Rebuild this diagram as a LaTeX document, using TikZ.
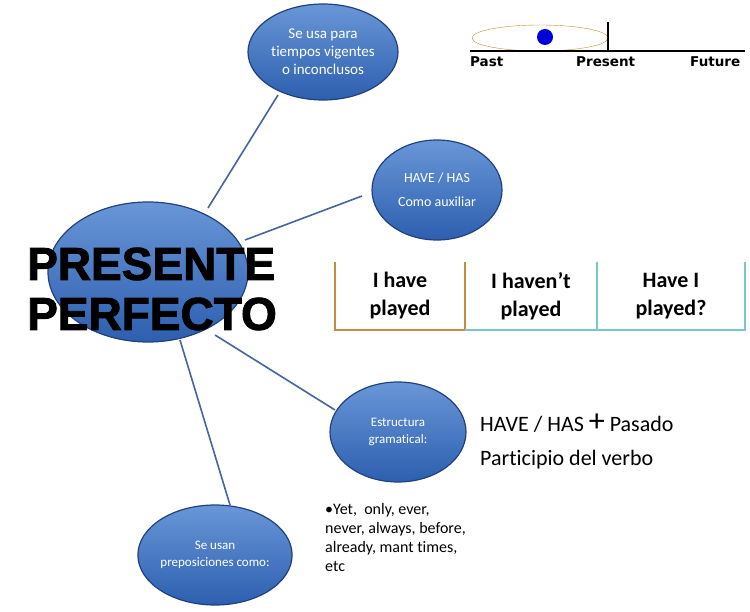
\documentclass[tikz,border=0pt]{standalone}
\usepackage{fontspec}
\setmainfont[Ligatures=NoCommon]{Carlito}
\newfontfamily\dvs{DejaVu Sans}
\newfontfamily\lib{Liberation Sans}
\usetikzlibrary{shapes.geometric}
\definecolor{bub}{RGB}{45,95,175}
\definecolor{bubd}{RGB}{35,65,125}
\definecolor{bubl}{RGB}{105,150,215}
\definecolor{conn}{RGB}{70,100,160}
\definecolor{orng}{RGB}{200,140,60}
\definecolor{teal}{RGB}{120,200,200}
\tikzset{bubble/.style={ellipse,draw=bubd,line width=1.2pt,top color=bubl,bottom color=bub,text=white,align=center,font=\fontsize{15}{18}\selectfont,inner sep=0pt},
conline/.style={draw=conn,line width=1.6pt}}
\begin{document}
\begin{tikzpicture}[x=1pt,y=-1pt]
\useasboundingbox[fill=white] (0,0) rectangle (750,612);
\node[bubble,minimum width=200,minimum height=140] (main) at (148,272) {};
\node[bubble,minimum width=150,minimum height=96] (top) at (323,52) {Se usa para\\tiempos vigentes\\o inconclusos};
\node[bubble,minimum width=130,minimum height=100,font=\fontsize{14}{24}\selectfont] (have) at (437,190) {HAVE / HAS\\Como auxiliar};
\node[bubble,minimum width=136,minimum height=100,font=\fontsize{13}{17}\selectfont] (est) at (398,432) {Estructura\\gramatical:};
\node[bubble,minimum width=150,minimum height=100,font=\fontsize{13}{17}\selectfont] (usan) at (215,555) {Se usan\\preposiciones como:};
\coordinate (c1) at (278,95); \coordinate (c2) at (362,196);
\coordinate (c3) at (335,410); \coordinate (c4) at (230,505);
\coordinate (m1) at (208,208); \coordinate (m2) at (245,240);
\coordinate (m3) at (215,335); \coordinate (m4) at (180,340);
\draw[conline] (m1) -- (c1);
\draw[conline] (m2) -- (c2);
\draw[conline] (m3) -- (c3);
\draw[conline] (m4) -- (c4);
\node[font=\lib\bfseries\fontsize{46}{50}\selectfont,align=left,anchor=west,inner sep=0pt,draw=none] (title) at (27,289) {\addfontfeature{FakeBold=2}PRESENTE\\\addfontfeature{FakeBold=2}PERFECTO};
% table
\draw[orng,line width=1.2pt] (335,262) -- (335,330) -- (465,330) -- (465,262);
\draw[teal,line width=1.2pt] (465,330) -- (745,330) -- (745,262) (597,262) -- (597,330);
\node[font=\bfseries\fontsize{22}{28}\selectfont,align=center] (p1) at (400,296) {I have\\played};
\node[font=\bfseries\fontsize{22}{28}\selectfont,align=center] (p2) at (531,296) {I haven’t\\played};
\node[font=\bfseries\fontsize{22}{28}\selectfont,align=center] (p3) at (671,296) {Have I\\played?};
\node[font=\fontsize{22}{34}\selectfont,align=left,anchor=north west,inner sep=0pt] (form) at (480,414) {HAVE / HAS {\fontsize{32}{28}\selectfont+} Pasado\\Participio del verbo};
\node[font=\fontsize{16}{19}\selectfont,align=left,anchor=north west,inner sep=0pt] (prep) at (325,503) {•Yet,\ \ only, ever,\\never, always, before,\\already, mant times,\\etc};
% timeline
\node[ellipse,draw=orng,minimum width=136,minimum height=26,inner sep=0pt] (oval) at (540,38) {};
\node[circle,fill=blue!85!black,minimum size=16,inner sep=0pt] (dot) at (545,37) {};
\draw[line width=2.5pt] (470,51) -- (745,51);
\draw[line width=2.5pt] (608,22) -- (608,51);
\node[font=\dvs\bfseries\fontsize{13.5}{13}\selectfont,anchor=west,inner sep=0pt] (past) at (470,62) {Past};
\node[font=\dvs\bfseries\fontsize{13.5}{13}\selectfont,anchor=west,inner sep=0pt] (pres) at (576,62) {Present};
\node[font=\dvs\bfseries\fontsize{13.5}{13}\selectfont,anchor=west,inner sep=0pt] (fut) at (690,62) {Future};
\end{tikzpicture}
\end{document}
